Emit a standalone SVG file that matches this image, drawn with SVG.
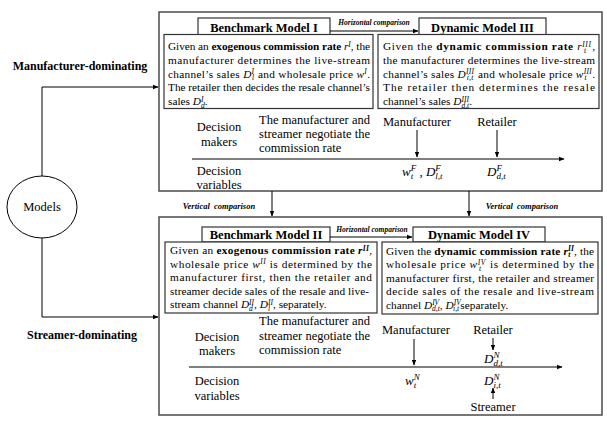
<svg xmlns="http://www.w3.org/2000/svg" width="607" height="427" viewBox="0 0 607 427" font-family="'Liberation Serif', 'Times New Roman', serif">
<defs>
<marker id="ah" markerWidth="6" markerHeight="6" refX="5" refY="3" orient="auto" markerUnits="userSpaceOnUse"><path d="M0,0.8 L5.5,3 L0,5.2 Z" fill="#000"/></marker>
<style>
svg text{font-family:'Liberation Serif','Times New Roman',serif;fill:#000}
.body{font-size:11.3px}
.lab{font-size:12.5px}
.title{font-size:12.5px;font-weight:bold}
.side{font-size:12px;font-weight:bold}
.cmp{font-size:7.5px;font-weight:bold;font-style:italic}
.vcmp{font-size:8.5px;font-weight:bold;font-style:italic}
.b{font-weight:bold}
.i{font-style:italic}
.s{font-size:7.5px}
.m{font-size:13px}
.ms{font-size:9px;font-style:italic}
.outer{fill:#fff;stroke:#555;stroke-width:1.6}
.box{fill:#fff;stroke:#333;stroke-width:1.2}
.conn{fill:none;stroke:#000;stroke-width:1}
</style>
</defs>
<rect width="607" height="427" fill="#fff"/>

<g id="models">
<ellipse cx="42" cy="207" rx="35" ry="31" fill="#fff" stroke="#000" stroke-width="1"/>
<text class="lab" x="42" y="211" text-anchor="middle">Models</text>
</g>
<text class="side" x="80" y="70" text-anchor="middle">Manufacturer-dominating</text>
<text class="side" x="82" y="339" text-anchor="middle">Streamer-dominating</text>

<g id="manufacturer-panel">
<rect class="outer" x="159" y="12" width="443" height="179"/>
</g>
<g id="streamer-panel">
<rect class="outer" x="159" y="217" width="443" height="198"/>
</g>

<g id="model-I">
<rect class="box" x="198" y="18" width="132" height="17"/>
<text class="title" x="264" y="31.5" text-anchor="middle">Benchmark Model I</text>
<rect class="box" x="164" y="34.5" width="209" height="74"/>
<text class="body" x="168" y="50" textLength="202" lengthAdjust="spacing">Given an <tspan class="b">exogenous commission rate</tspan> <tspan class="i">r</tspan><tspan class="s i" dy="-3.5">I</tspan><tspan dy="3.5">, the</tspan></text>
<text class="body" x="168" y="63.75" textLength="202" lengthAdjust="spacing">manufacturer determines the  live-stream</text>
<text class="body" x="168" y="77.5" textLength="202" lengthAdjust="spacing">channel’s sales <tspan class="i">D</tspan><tspan class="s i" dy="-3.5">I</tspan><tspan class="s i" dx="-2.5" dy="6">l</tspan><tspan dx="0.5" dy="-2.5"> and wholesale price </tspan><tspan class="i">w</tspan><tspan class="s i" dy="-3.5">I</tspan><tspan dy="3.5">.</tspan></text>
<text class="body" x="168" y="91.25" textLength="202" lengthAdjust="spacing">The retailer then decides the resale channel’s</text>
<text class="body" x="168" y="105">sales <tspan class="i">D</tspan><tspan class="s i" dy="-3.5">I</tspan><tspan class="s i" dx="-2.5" dy="6">d</tspan><tspan dy="-2.5">.</tspan></text>
</g>

<g id="model-III">
<rect class="box" x="419" y="18" width="127" height="17"/>
<text class="title" x="482.5" y="31.5" text-anchor="middle">Dynamic Model III</text>
<rect class="box" x="378" y="34.5" width="221" height="74"/>
<text class="body" x="383" y="50" textLength="212" lengthAdjust="spacing">Given the <tspan class="b">dynamic commission rate</tspan> <tspan class="i">r</tspan><tspan class="s i" dy="-3.5">III</tspan><tspan class="s i" dx="-7.5" dy="6">t</tspan><tspan dx="5.4" dy="-2.5">,</tspan></text>
<text class="body" x="383" y="63.75" textLength="212" lengthAdjust="spacing">the manufacturer determines the  live-stream</text>
<text class="body" x="383" y="77.5" textLength="212" lengthAdjust="spacing">channel’s sales <tspan class="i">D</tspan><tspan class="s i" dy="-3.5">III</tspan><tspan class="s i" dx="-7.5" dy="6">i,t</tspan><tspan dx="1.5" dy="-2.5"> and wholesale price </tspan><tspan class="i">w</tspan><tspan class="s i" dy="-3.5">III</tspan><tspan class="s i" dx="-7.5" dy="6">t</tspan><tspan dx="5.4" dy="-2.5">.</tspan></text>
<text class="body" x="383" y="91.25" textLength="212" lengthAdjust="spacing">The  retailer  then  determines  the  resale</text>
<text class="body" x="383" y="105">channel’s sales <tspan class="i">D</tspan><tspan class="s i" dy="-3.5">III</tspan><tspan class="s i" dx="-7.5" dy="6">d,t</tspan><tspan dy="-2.5">.</tspan></text>
</g>

<g id="model-II">
<rect class="box" x="202" y="227" width="128" height="15"/>
<text class="title" x="266" y="238.5" text-anchor="middle">Benchmark Model II</text>
<rect class="box" x="165" y="242" width="212" height="71"/>
<text class="body" x="170" y="254" textLength="202" lengthAdjust="spacing">Given an <tspan class="b">exogenous commission rate</tspan> <tspan class="b i">r</tspan><tspan class="s b i" dy="-3.5">II</tspan><tspan dy="3.5">,</tspan></text>
<text class="body" x="170" y="267.5" textLength="202" lengthAdjust="spacing">wholesale price <tspan class="i">w</tspan><tspan class="s i" dy="-3.5">II</tspan><tspan dy="3.5"> is determined by the</tspan></text>
<text class="body" x="170" y="281" textLength="202" lengthAdjust="spacing">manufacturer first, then the retailer and</text>
<text class="body" x="170" y="294.5" textLength="199" lengthAdjust="spacing">streamer  decide sales of the resale and live-</text>
<text class="body" x="170" y="308">stream channel <tspan class="i">D</tspan><tspan class="s i" dy="-3.5">II</tspan><tspan class="s i" dx="-5" dy="6">d</tspan><tspan dx="1.3" dy="-2.5">, </tspan><tspan class="i">D</tspan><tspan class="s i" dy="-3.5">II</tspan><tspan class="s i" dx="-5" dy="6">l</tspan><tspan dx="3" dy="-2.5">, separately.</tspan></text>
</g>

<g id="model-IV">
<rect class="box" x="413" y="227" width="132" height="15"/>
<text class="title" x="479" y="238.5" text-anchor="middle">Dynamic Model IV</text>
<rect class="box" x="382" y="242" width="216" height="72"/>
<text class="body" x="386" y="254.5" textLength="208" lengthAdjust="spacing">Given the <tspan class="b">dynamic commission rate</tspan> <tspan class="b i">r</tspan><tspan class="s b i" dy="-3.5">II</tspan><tspan class="s b i" dx="-5.8" dy="6">t</tspan><tspan dx="3.6" dy="-2.5">, the</tspan></text>
<text class="body" x="386" y="268" textLength="208" lengthAdjust="spacing">wholesale price <tspan class="i">w</tspan><tspan class="s i" dy="-3.5">IV</tspan><tspan class="s i" dx="-7.1" dy="6">t</tspan><tspan dx="5" dy="-2.5">  is determined by the</tspan></text>
<text class="body" x="386" y="281.5" textLength="208" lengthAdjust="spacing">manufacturer first, the retailer and streamer</text>
<text class="body" x="386" y="295" textLength="208" lengthAdjust="spacing">decide sales of the resale and live-stream</text>
<text class="body" x="386" y="308.5">channel <tspan class="i">D</tspan><tspan class="s i" dy="-3.5">IV</tspan><tspan class="s i" dx="-7.1" dy="6">d,t</tspan><tspan dx="0" dy="-2.5">, </tspan><tspan class="i">D</tspan><tspan class="s i" dy="-3.5">IV</tspan><tspan class="s i" dx="-7.1" dy="6">i,t</tspan><tspan dx="1.2" dy="-2.5">separately.</tspan></text>
</g>

<g id="decision-manufacturer">
<text class="lab" x="219" y="131" text-anchor="middle">Decision</text>
<text class="lab" x="219" y="146" text-anchor="middle">makers</text>
<text class="lab" x="259" y="124" textLength="111" lengthAdjust="spacing">The manufacturer and</text>
<text class="lab" x="259" y="138" textLength="111" lengthAdjust="spacing">streamer negotiate the</text>
<text class="lab" x="259" y="152">commission rate</text>
<text class="lab" x="417" y="126" text-anchor="middle">Manufacturer</text>
<text class="lab" x="497" y="126" text-anchor="middle">Retailer</text>
<text class="lab" x="219" y="175" text-anchor="middle">Decision</text>
<text class="lab" x="219" y="189" text-anchor="middle">variables</text>
<text class="m" x="402" y="176"><tspan class="i">w</tspan><tspan class="ms" dy="-5">F</tspan><tspan class="ms" dx="-5.5" dy="8">t</tspan><tspan dx="3" dy="-3"> , </tspan><tspan class="i">D</tspan><tspan class="ms" dy="-5">F</tspan><tspan class="ms" dx="-5.5" dy="8">l,t</tspan></text>
<text class="m" x="487" y="176"><tspan class="i">D</tspan><tspan class="ms" dy="-5">F</tspan><tspan class="ms" dx="-5.5" dy="8">d,t</tspan></text>
</g>

<g id="decision-streamer">
<text class="lab" x="217" y="341" text-anchor="middle">Decision</text>
<text class="lab" x="217" y="355" text-anchor="middle">makers</text>
<text class="lab" x="259" y="325" textLength="111" lengthAdjust="spacing">The manufacturer and</text>
<text class="lab" x="259" y="340" textLength="111" lengthAdjust="spacing">streamer negotiate the</text>
<text class="lab" x="259" y="354">commission rate</text>
<text class="lab" x="416" y="334" text-anchor="middle">Manufacturer</text>
<text class="lab" x="493" y="334" text-anchor="middle">Retailer</text>
<text class="lab" x="493" y="411" text-anchor="middle">Streamer</text>
<text class="lab" x="217" y="385" text-anchor="middle">Decision</text>
<text class="lab" x="217" y="400" text-anchor="middle">variables</text>
<text class="m" x="405" y="385"><tspan class="i">w</tspan><tspan class="ms" dy="-5">N</tspan><tspan class="ms" dx="-6" dy="8">t</tspan></text>
<text class="m" x="484" y="363"><tspan class="i">D</tspan><tspan class="ms" dy="-5">N</tspan><tspan class="ms" dx="-6" dy="8">d,t</tspan></text>
<text class="m" x="484" y="385"><tspan class="i">D</tspan><tspan class="ms" dy="-5">N</tspan><tspan class="ms" dx="-6" dy="8">i,t</tspan></text>
</g>

<g id="connectors">
<polyline class="conn" points="42,176 42,87 158,87" marker-end="url(#ah)"/>
<polyline class="conn" points="42,238 42,317 158,317" marker-end="url(#ah)"/>
<line class="conn" x1="330" y1="31" x2="418" y2="31" marker-end="url(#ah)"/>
<text class="cmp" x="374" y="25" text-anchor="middle">Horizontal comparison</text>
<line class="conn" x1="330" y1="237" x2="412" y2="237" marker-end="url(#ah)"/>
<text class="cmp" x="372" y="232" text-anchor="middle">Horizontal comparison</text>
<line class="conn" x1="272" y1="191" x2="272" y2="216" marker-end="url(#ah)"/>
<text class="vcmp" x="219" y="209" text-anchor="middle" xml:space="preserve">Vertical  comparison</text>
<line class="conn" x1="469" y1="191" x2="469" y2="216" marker-end="url(#ah)"/>
<text class="vcmp" x="522" y="209" text-anchor="middle" xml:space="preserve">Vertical  comparison</text>
<line class="conn" x1="417" y1="130" x2="417" y2="157" marker-end="url(#ah)"/>
<line class="conn" x1="497" y1="130" x2="497" y2="157" marker-end="url(#ah)"/>
<line class="conn" x1="192" y1="159" x2="564" y2="159" marker-end="url(#ah)"/>
<line class="conn" x1="414" y1="339" x2="414" y2="365" marker-end="url(#ah)"/>
<line class="conn" x1="493" y1="338" x2="493" y2="350" marker-end="url(#ah)"/>
<line class="conn" x1="493" y1="399" x2="493" y2="388" marker-end="url(#ah)"/>
<line class="conn" x1="189" y1="367" x2="562" y2="367" marker-end="url(#ah)"/>
</g>
</svg>
